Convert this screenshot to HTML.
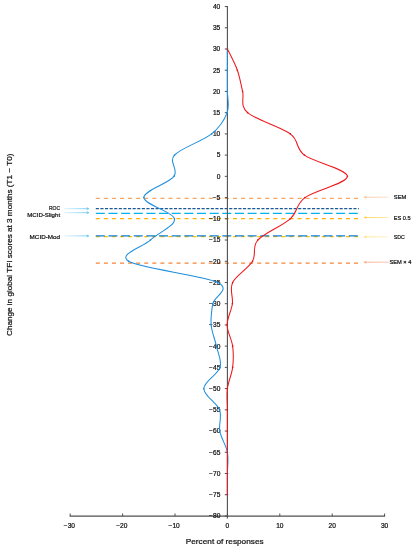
<!DOCTYPE html>
<html><head><meta charset="utf-8"><title>Chart</title>
<style>html,body{margin:0;padding:0;background:#fff}svg{display:block}text{font-family:"Liberation Sans",Arial,sans-serif;fill:#111;stroke:#111;stroke-width:0.22px}</style></head><body>
<svg width="415" height="550" viewBox="0 0 415 550">
<defs>
<linearGradient id="gb" gradientUnits="userSpaceOnUse" x1="64" y1="0" x2="88.7" y2="0"><stop offset="0" stop-color="#35b4f2" stop-opacity="0.18"/><stop offset="1" stop-color="#35b4f2" stop-opacity="0.85"/></linearGradient>
<linearGradient id="go" gradientUnits="userSpaceOnUse" x1="364.4" y1="0" x2="388.5" y2="0"><stop offset="0" stop-color="#f9a868" stop-opacity="0.8"/><stop offset="1" stop-color="#f9a868" stop-opacity="0.4"/></linearGradient>
<linearGradient id="gy" gradientUnits="userSpaceOnUse" x1="364.4" y1="0" x2="388.5" y2="0"><stop offset="0" stop-color="#ffc000" stop-opacity="0.75"/><stop offset="1" stop-color="#ffc000" stop-opacity="0.4"/></linearGradient>
<linearGradient id="gy2" gradientUnits="userSpaceOnUse" x1="364.4" y1="0" x2="388.5" y2="0"><stop offset="0" stop-color="#ffd54a" stop-opacity="0.8"/><stop offset="1" stop-color="#ffd54a" stop-opacity="0.35"/></linearGradient>
<linearGradient id="gr" gradientUnits="userSpaceOnUse" x1="364.4" y1="0" x2="389.4" y2="0"><stop offset="0" stop-color="#f4895a" stop-opacity="0.85"/><stop offset="1" stop-color="#f4895a" stop-opacity="0.55"/></linearGradient>
</defs>
<rect width="415" height="550" fill="#fff"/>
<line x1="95.8" y1="198.25" x2="358.8" y2="198.25" stroke="#f9a560" stroke-width="1.25" stroke-dasharray="4 4.07"/>
<line x1="95.8" y1="208.55" x2="358.8" y2="208.55" stroke="#1b5a96" stroke-width="1.25" stroke-dasharray="3.1 1.5"/>
<line x1="95.8" y1="213.25" x2="358.8" y2="213.25" stroke="#00b0f0" stroke-width="1.25" stroke-dasharray="9 3.65"/>
<line x1="95.8" y1="218.50" x2="358.8" y2="218.50" stroke="#ffb000" stroke-width="1.25" stroke-dasharray="4 4.07"/>
<line x1="95.8" y1="236.60" x2="358.8" y2="236.60" stroke="#ffc000" stroke-width="1.25" stroke-dasharray="4 4.07"/>
<line x1="95.8" y1="235.85" x2="358.8" y2="235.85" stroke="#0f7fd0" stroke-width="1.35" stroke-dasharray="9 3.65"/>
<line x1="95.8" y1="263.20" x2="358.8" y2="263.20" stroke="#f58536" stroke-width="1.25" stroke-dasharray="4 4.07"/>
<line x1="69.7" y1="516.1" x2="385.1" y2="516.1" stroke="#505050" stroke-width="1.1"/>
<line x1="227.4" y1="6.0" x2="227.4" y2="518.5" stroke="#505050" stroke-width="1.1"/>
<line x1="70.2" y1="513.5" x2="70.2" y2="516.1" stroke="#505050" stroke-width="1"/>
<text x="69.4" y="527.8" font-size="6.6" text-anchor="middle" stroke-width="0.1">−30</text>
<line x1="122.6" y1="513.5" x2="122.6" y2="516.1" stroke="#505050" stroke-width="1"/>
<text x="121.8" y="527.8" font-size="6.6" text-anchor="middle" stroke-width="0.1">−20</text>
<line x1="175.0" y1="513.5" x2="175.0" y2="516.1" stroke="#505050" stroke-width="1"/>
<text x="174.2" y="527.8" font-size="6.6" text-anchor="middle" stroke-width="0.1">−10</text>
<line x1="227.4" y1="513.5" x2="227.4" y2="516.1" stroke="#505050" stroke-width="1"/>
<text x="227.4" y="527.8" font-size="6.6" text-anchor="middle" stroke-width="0.1">0</text>
<line x1="279.8" y1="513.5" x2="279.8" y2="516.1" stroke="#505050" stroke-width="1"/>
<text x="279.8" y="527.8" font-size="6.6" text-anchor="middle" stroke-width="0.1">10</text>
<line x1="332.2" y1="513.5" x2="332.2" y2="516.1" stroke="#505050" stroke-width="1"/>
<text x="332.2" y="527.8" font-size="6.6" text-anchor="middle" stroke-width="0.1">20</text>
<line x1="384.6" y1="513.5" x2="384.6" y2="516.1" stroke="#505050" stroke-width="1"/>
<text x="384.6" y="527.8" font-size="6.6" text-anchor="middle" stroke-width="0.1">30</text>
<line x1="224.8" y1="515.95" x2="227.4" y2="515.95" stroke="#505050" stroke-width="1"/>
<text x="220.3" y="518.30" font-size="6.6" text-anchor="end" stroke-width="0.1">−80</text>
<line x1="224.8" y1="494.73" x2="227.4" y2="494.73" stroke="#505050" stroke-width="1"/>
<text x="220.3" y="497.08" font-size="6.6" text-anchor="end" stroke-width="0.1">−75</text>
<line x1="224.8" y1="473.50" x2="227.4" y2="473.50" stroke="#505050" stroke-width="1"/>
<text x="220.3" y="475.85" font-size="6.6" text-anchor="end" stroke-width="0.1">−70</text>
<line x1="224.8" y1="452.27" x2="227.4" y2="452.27" stroke="#505050" stroke-width="1"/>
<text x="220.3" y="454.62" font-size="6.6" text-anchor="end" stroke-width="0.1">−65</text>
<line x1="224.8" y1="431.05" x2="227.4" y2="431.05" stroke="#505050" stroke-width="1"/>
<text x="220.3" y="433.40" font-size="6.6" text-anchor="end" stroke-width="0.1">−60</text>
<line x1="224.8" y1="409.82" x2="227.4" y2="409.82" stroke="#505050" stroke-width="1"/>
<text x="220.3" y="412.18" font-size="6.6" text-anchor="end" stroke-width="0.1">−55</text>
<line x1="224.8" y1="388.60" x2="227.4" y2="388.60" stroke="#505050" stroke-width="1"/>
<text x="220.3" y="390.95" font-size="6.6" text-anchor="end" stroke-width="0.1">−50</text>
<line x1="224.8" y1="367.38" x2="227.4" y2="367.38" stroke="#505050" stroke-width="1"/>
<text x="220.3" y="369.73" font-size="6.6" text-anchor="end" stroke-width="0.1">−45</text>
<line x1="224.8" y1="346.15" x2="227.4" y2="346.15" stroke="#505050" stroke-width="1"/>
<text x="220.3" y="348.50" font-size="6.6" text-anchor="end" stroke-width="0.1">−40</text>
<line x1="224.8" y1="324.93" x2="227.4" y2="324.93" stroke="#505050" stroke-width="1"/>
<text x="220.3" y="327.28" font-size="6.6" text-anchor="end" stroke-width="0.1">−35</text>
<line x1="224.8" y1="303.70" x2="227.4" y2="303.70" stroke="#505050" stroke-width="1"/>
<text x="220.3" y="306.05" font-size="6.6" text-anchor="end" stroke-width="0.1">−30</text>
<line x1="224.8" y1="282.48" x2="227.4" y2="282.48" stroke="#505050" stroke-width="1"/>
<text x="220.3" y="284.83" font-size="6.6" text-anchor="end" stroke-width="0.1">−25</text>
<line x1="224.8" y1="261.25" x2="227.4" y2="261.25" stroke="#505050" stroke-width="1"/>
<text x="220.3" y="263.60" font-size="6.6" text-anchor="end" stroke-width="0.1">−20</text>
<line x1="224.8" y1="240.03" x2="227.4" y2="240.03" stroke="#505050" stroke-width="1"/>
<text x="220.3" y="242.38" font-size="6.6" text-anchor="end" stroke-width="0.1">−15</text>
<line x1="224.8" y1="218.80" x2="227.4" y2="218.80" stroke="#505050" stroke-width="1"/>
<text x="220.3" y="221.15" font-size="6.6" text-anchor="end" stroke-width="0.1">−10</text>
<line x1="224.8" y1="197.57" x2="227.4" y2="197.57" stroke="#505050" stroke-width="1"/>
<text x="220.3" y="199.92" font-size="6.6" text-anchor="end" stroke-width="0.1">−5</text>
<line x1="224.8" y1="176.35" x2="227.4" y2="176.35" stroke="#505050" stroke-width="1"/>
<text x="220.3" y="178.70" font-size="6.6" text-anchor="end" stroke-width="0.1">0</text>
<line x1="224.8" y1="155.12" x2="227.4" y2="155.12" stroke="#505050" stroke-width="1"/>
<text x="220.3" y="157.47" font-size="6.6" text-anchor="end" stroke-width="0.1">5</text>
<line x1="224.8" y1="133.90" x2="227.4" y2="133.90" stroke="#505050" stroke-width="1"/>
<text x="220.3" y="136.25" font-size="6.6" text-anchor="end" stroke-width="0.1">10</text>
<line x1="224.8" y1="112.67" x2="227.4" y2="112.67" stroke="#505050" stroke-width="1"/>
<text x="220.3" y="115.02" font-size="6.6" text-anchor="end" stroke-width="0.1">15</text>
<line x1="224.8" y1="91.45" x2="227.4" y2="91.45" stroke="#505050" stroke-width="1"/>
<text x="220.3" y="93.80" font-size="6.6" text-anchor="end" stroke-width="0.1">20</text>
<line x1="224.8" y1="70.22" x2="227.4" y2="70.22" stroke="#505050" stroke-width="1"/>
<text x="220.3" y="72.57" font-size="6.6" text-anchor="end" stroke-width="0.1">25</text>
<line x1="224.8" y1="49.00" x2="227.4" y2="49.00" stroke="#505050" stroke-width="1"/>
<text x="220.3" y="51.35" font-size="6.6" text-anchor="end" stroke-width="0.1">30</text>
<line x1="224.8" y1="27.77" x2="227.4" y2="27.77" stroke="#505050" stroke-width="1"/>
<text x="220.3" y="30.12" font-size="6.6" text-anchor="end" stroke-width="0.1">35</text>
<line x1="224.8" y1="6.55" x2="227.4" y2="6.55" stroke="#505050" stroke-width="1"/>
<text x="220.3" y="8.90" font-size="6.6" text-anchor="end" stroke-width="0.1">40</text>
<path d="M227.40 49.00 C227.40 52.54 227.40 63.15 227.40 70.22 C227.40 77.30 227.44 84.37 227.40 91.45 C227.36 98.52 229.76 105.60 227.14 112.67 C224.52 119.75 220.46 126.82 211.68 133.90 C202.90 140.97 180.76 148.05 174.48 155.12 C168.19 162.20 179.06 169.28 173.95 176.35 C168.84 183.42 143.73 190.50 143.82 197.57 C143.91 204.65 173.38 211.73 174.48 218.80 C175.57 225.88 158.01 232.95 150.37 240.03 C142.73 247.10 117.39 254.18 128.63 261.25 C139.87 268.32 203.79 275.40 217.81 282.48 C231.83 289.55 213.84 296.62 212.73 303.70 C211.62 310.77 210.54 317.85 211.16 324.93 C211.77 332.00 214.91 339.07 216.40 346.15 C217.88 353.22 222.16 360.30 220.06 367.38 C217.97 374.45 203.91 381.53 203.82 388.60 C203.73 395.68 216.88 402.75 219.54 409.82 C222.20 416.90 218.49 423.98 219.80 431.05 C221.11 438.12 226.13 445.20 227.40 452.27 C228.67 459.35 227.40 466.43 227.40 473.50 C227.40 480.57 227.40 491.19 227.40 494.73" fill="none" stroke="#1e8fdc" stroke-width="1.05" stroke-linejoin="round"/>
<path d="M227.40 49.00 C229.06 52.54 234.82 63.15 237.36 70.22 C239.89 77.30 240.89 84.37 242.60 91.45 C244.30 98.52 239.63 105.60 247.57 112.67 C255.52 119.75 280.80 126.82 290.28 133.90 C299.76 140.97 294.91 148.05 304.43 155.12 C313.95 162.20 347.31 169.28 347.40 176.35 C347.48 183.42 314.47 190.50 304.95 197.57 C295.43 204.65 298.14 211.73 290.28 218.80 C282.42 225.88 264.08 232.95 257.79 240.03 C251.50 247.10 256.74 254.18 252.55 261.25 C248.36 268.32 236.00 275.40 232.64 282.48 C229.28 289.55 233.30 296.62 232.38 303.70 C231.46 310.77 227.09 317.85 227.14 324.93 C227.18 332.00 231.72 339.07 232.64 346.15 C233.56 353.22 233.51 360.30 232.64 367.38 C231.77 374.45 228.27 381.53 227.40 388.60 C226.53 395.68 227.40 402.75 227.40 409.82 C227.40 416.90 227.40 423.98 227.40 431.05 C227.40 438.12 227.40 445.20 227.40 452.27 C227.40 459.35 227.40 466.43 227.40 473.50 C227.40 480.57 227.40 491.19 227.40 494.73" fill="none" stroke="#f0161a" stroke-width="1.05" stroke-linejoin="round"/>
<circle cx="227.40" cy="49.00" r="0.8" fill="#1e8fdc"/>
<circle cx="227.40" cy="70.22" r="0.8" fill="#1e8fdc"/>
<circle cx="227.40" cy="91.45" r="0.8" fill="#1e8fdc"/>
<circle cx="227.14" cy="112.67" r="0.8" fill="#1e8fdc"/>
<circle cx="211.68" cy="133.90" r="0.8" fill="#1e8fdc"/>
<circle cx="174.48" cy="155.12" r="0.8" fill="#1e8fdc"/>
<circle cx="173.95" cy="176.35" r="0.8" fill="#1e8fdc"/>
<circle cx="143.82" cy="197.57" r="0.8" fill="#1e8fdc"/>
<circle cx="174.48" cy="218.80" r="0.8" fill="#1e8fdc"/>
<circle cx="150.37" cy="240.03" r="0.8" fill="#1e8fdc"/>
<circle cx="128.63" cy="261.25" r="0.8" fill="#1e8fdc"/>
<circle cx="217.81" cy="282.48" r="0.8" fill="#1e8fdc"/>
<circle cx="212.73" cy="303.70" r="0.8" fill="#1e8fdc"/>
<circle cx="211.16" cy="324.93" r="0.8" fill="#1e8fdc"/>
<circle cx="216.40" cy="346.15" r="0.8" fill="#1e8fdc"/>
<circle cx="220.06" cy="367.38" r="0.8" fill="#1e8fdc"/>
<circle cx="203.82" cy="388.60" r="0.8" fill="#1e8fdc"/>
<circle cx="219.54" cy="409.82" r="0.8" fill="#1e8fdc"/>
<circle cx="219.80" cy="431.05" r="0.8" fill="#1e8fdc"/>
<circle cx="227.40" cy="452.27" r="0.8" fill="#1e8fdc"/>
<circle cx="227.40" cy="473.50" r="0.8" fill="#1e8fdc"/>
<circle cx="227.40" cy="494.73" r="0.8" fill="#1e8fdc"/>
<circle cx="227.40" cy="49.00" r="0.8" fill="#e01015"/>
<circle cx="237.36" cy="70.22" r="0.8" fill="#e01015"/>
<circle cx="242.60" cy="91.45" r="0.8" fill="#e01015"/>
<circle cx="247.57" cy="112.67" r="0.8" fill="#e01015"/>
<circle cx="290.28" cy="133.90" r="0.8" fill="#e01015"/>
<circle cx="304.43" cy="155.12" r="0.8" fill="#e01015"/>
<circle cx="347.40" cy="176.35" r="0.8" fill="#e01015"/>
<circle cx="304.95" cy="197.57" r="0.8" fill="#e01015"/>
<circle cx="290.28" cy="218.80" r="0.8" fill="#e01015"/>
<circle cx="257.79" cy="240.03" r="0.8" fill="#e01015"/>
<circle cx="252.55" cy="261.25" r="0.8" fill="#e01015"/>
<circle cx="232.64" cy="282.48" r="0.8" fill="#e01015"/>
<circle cx="232.38" cy="303.70" r="0.8" fill="#e01015"/>
<circle cx="227.14" cy="324.93" r="0.8" fill="#e01015"/>
<circle cx="232.64" cy="346.15" r="0.8" fill="#e01015"/>
<circle cx="232.64" cy="367.38" r="0.8" fill="#e01015"/>
<circle cx="227.40" cy="388.60" r="0.8" fill="#e01015"/>
<circle cx="227.40" cy="409.82" r="0.8" fill="#e01015"/>
<circle cx="227.40" cy="431.05" r="0.8" fill="#e01015"/>
<circle cx="227.40" cy="452.27" r="0.8" fill="#e01015"/>
<circle cx="227.40" cy="473.50" r="0.8" fill="#e01015"/>
<circle cx="227.40" cy="494.73" r="0.8" fill="#e01015"/>
<text x="185.8" y="543.5" font-size="7.6" textLength="77.8" lengthAdjust="spacingAndGlyphs">Percent of responses</text>
<text transform="translate(12 336) rotate(-90)" font-size="7.6" textLength="182.4" lengthAdjust="spacingAndGlyphs">Change in global TFI scores at 3 months (T1 − T0)</text>
<text x="48.9" y="210.20" font-size="6.1" stroke-width="0.1" text-anchor="start" textLength="11.2" lengthAdjust="spacingAndGlyphs">ROC</text>
<text x="27.2" y="216.90" font-size="6.1" stroke-width="0.1" text-anchor="start" textLength="32.9" lengthAdjust="spacingAndGlyphs">MCID-Slight</text>
<text x="29.6" y="238.80" font-size="6.1" stroke-width="0.1" text-anchor="start" textLength="30.5" lengthAdjust="spacingAndGlyphs">MCID-Mod</text>
<path d="M64.0 208.70 H88.7" stroke="url(#gb)" stroke-width="0.8" fill="none"/>
<path d="M86.7 207.60 L88.7 208.70 L86.7 209.80" stroke="#35b4f2" stroke-width="0.7" stroke-opacity="0.85" fill="none"/>
<path d="M64.0 212.70 H88.7" stroke="url(#gb)" stroke-width="0.8" fill="none"/>
<path d="M86.7 211.60 L88.7 212.70 L86.7 213.80" stroke="#35b4f2" stroke-width="0.7" stroke-opacity="0.85" fill="none"/>
<path d="M64.0 235.90 H88.7" stroke="url(#gb)" stroke-width="0.8" fill="none"/>
<path d="M86.7 234.80 L88.7 235.90 L86.7 237.00" stroke="#35b4f2" stroke-width="0.7" stroke-opacity="0.85" fill="none"/>
<text x="393.8" y="199.10" font-size="6.1" stroke-width="0.1" text-anchor="start" textLength="12.6" lengthAdjust="spacingAndGlyphs">SEM</text>
<text x="393.8" y="219.60" font-size="6.1" stroke-width="0.1" text-anchor="start" textLength="16.8" lengthAdjust="spacingAndGlyphs">ES 0.5</text>
<text x="393.8" y="238.80" font-size="6.1" stroke-width="0.1" text-anchor="start" textLength="11.0" lengthAdjust="spacingAndGlyphs">SDC</text>
<text x="389.4" y="264.00" font-size="6.1" stroke-width="0.1" text-anchor="start" textLength="22.0" lengthAdjust="spacingAndGlyphs">SEM × 4</text>
<path d="M364.4 197.20 H388.5" stroke="url(#go)" stroke-width="0.8" fill="none"/>
<path d="M366.4 196.10 L364.4 197.20 L366.4 198.30" stroke="#f9a868" stroke-width="0.7" stroke-opacity="0.85" fill="none"/>
<path d="M364.4 217.50 H388.5" stroke="url(#gy)" stroke-width="0.8" fill="none"/>
<path d="M366.4 216.40 L364.4 217.50 L366.4 218.60" stroke="#ffc000" stroke-width="0.7" stroke-opacity="0.85" fill="none"/>
<path d="M364.4 236.90 H388.5" stroke="url(#gy2)" stroke-width="0.8" fill="none"/>
<path d="M366.4 235.80 L364.4 236.90 L366.4 238.00" stroke="#ffd54a" stroke-width="0.7" stroke-opacity="0.85" fill="none"/>
<path d="M364.4 262.20 H389.4" stroke="url(#gr)" stroke-width="0.8" fill="none"/>
<path d="M366.4 261.10 L364.4 262.20 L366.4 263.30" stroke="#f4895a" stroke-width="0.7" stroke-opacity="0.85" fill="none"/>
</svg></body></html>
